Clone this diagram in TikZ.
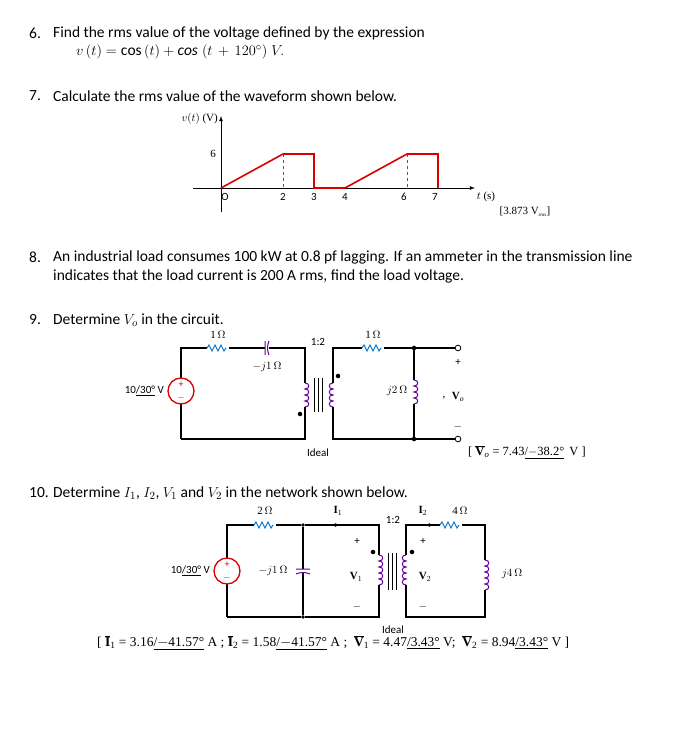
\documentclass[tikz,border=0pt]{standalone}
\usepackage{fontspec}
\setmainfont{Carlito}
\newfontfamily\tms{Liberation Serif}
\newcommand\bV{{\tms\bfseries V}}
\newcommand\bI{{\tms\bfseries I}}
\newcommand\oV{$\overline{\hbox{\tms\bfseries V}}$}
\newcommand\oI{$\overline{\hbox{\tms\bfseries I}}$}
\newcommand\ang[1]{\underline{/#1}}
\begin{document}
\begin{tikzpicture}[x=1pt,y=-1pt,
 txt/.style={anchor=west,inner sep=0pt,font=\fontsize{15.5}{17}\selectfont},
 lab/.style={inner sep=0pt,font=\tms\fontsize{11}{12}\selectfont},
 sl/.style={inner sep=0pt,font=\fontsize{11}{12}\selectfont},
 wire/.style={line width=1.1pt,black},
 dotn/.style={circle,fill=black,inner sep=1.6pt},
 term/.style={circle,draw,fill=white,inner sep=2pt,line width=0.8pt},
 res/.style={draw=cyan!60!blue,line width=1pt},
 ind/.style={draw=violet!80!blue,line width=1pt},
 sgn/.style={text=red!85!black,inner sep=0pt,font=\fontsize{10}{10}\selectfont},
 wave/.style={draw=red!85!black,line width=1.6pt}]
\useasboundingbox (0,0) rectangle (675,751);
\fill[white] (0,0) rectangle (675,751);
% ---- texts
\node[txt] (n6) at (29,33) {6.};
\node[txt] (t6) at (53,33) {Find the rms value of the voltage defined by the expression};
\node[txt] (e6) at (76,52) {$v\,(t) = \mathrm{cos}\,(t) + \mathit{cos}\;(t\, + \,120^\circ)\;V.$};
\node[txt] (n7) at (29,96) {7.};
\node[txt] (t7) at (53,96) {Calculate the rms value of the waveform shown below.};
\node[txt] (n8) at (29,257) {8.};
\node[txt] (t8) at (53,257) {An industrial load consumes 100 kW at 0.8 pf lagging. If an ammeter in the transmission line};
\node[txt] (t8b) at (53,276) {indicates that the load current is 200 A rms, find the load voltage.};
\node[txt] (n9) at (29,320) {9.};
\node[txt] (t9) at (53,320) {Determine $V_o$ in the circuit.};
\node[txt] (n10) at (29,493) {10.};
\node[txt] (t10) at (53,493) {Determine $I_1$, $I_2$, $V_1$ and $V_2$ in the network shown below.};
% ---- graph
\draw[line width=0.8pt,-latex] (193,188) -- (475,188);
\draw[line width=0.8pt,-latex] (221,212) -- (221,116);
\draw[dashed,gray!70!black] (283,154) -- (283,188) (407,154) -- (407,188);
\draw[wave] (221,188) -- (283,154) -- (314,154) -- (314,188) -- (345,188) -- (407,154) -- (438,154) -- (438,188);
\node[sl] (g0) at (225,197) {O};
\node[sl] (g2) at (283,197) {2};
\node[sl] (g3) at (314,197) {3};
\node[sl] (g4) at (345,197) {4};
\node[sl] (g6) at (404,197) {6};
\node[sl] (g7) at (435,197) {7};
\node[lab] (g6y) at (213,154) {6};
\node[lab,anchor=east] (gy) at (218,119) {$v(t)$ (V)};
\node[lab] (gt) at (486,197) {$t$ (s)};
\node[inner sep=0pt,font=\fontsize{11}{12}\selectfont\tms] (ga) at (525,212) {[3.873 V\textsubscript{\tiny rms}]};
% ---- circuit 9
\coordinate (a1) at (181,348); \coordinate (a2) at (305,348);
\coordinate (a3) at (305,439); \coordinate (a4) at (181,439);
\draw[wire] (a4) -- (181,404) (181,378) -- (a1) -- (207,348);
\draw[wire] (229,348) -- (265,348) (269,348) -- (a2) -- (305,383);
\draw[wire] (305,407) -- (a3) -- (a4);
\draw[res] (207,348) -- ++(2,-3) -- ++(3,6) -- ++(3,-6) -- ++(3,6) -- ++(3,-6) -- ++(3,6) -- ++(2,-3);
\draw[ind] (265,341) -- (265,355) (269,341) .. controls (267,345) and (267,351) .. (269,355);
\node[draw=red!85!black,line width=1.3pt,circle,minimum size=26pt,inner sep=0pt] (s9) at (181,391) {};
\node[sgn] (s9p) at (181,385) {+};
\node[sgn] (s9m) at (181,398) {$-$};
\node[sl,anchor=east] (v9) at (164,391) {10\ang{30°} V};
\node[lab] (r9) at (218,335) {1\,$\Omega$};
\node[lab] (c9) at (267,367) {$-j1\,\Omega$};
\draw[ind] (305,383) foreach \i in {0,1,2,3}{ .. controls +(5,0) and +(5,0) .. ++(0,6)};
\draw[line width=1pt] (314,378) -- (314,412) (318,378) -- (318,412) (322,378) -- (322,412);
\draw[ind] (333,383) foreach \i in {0,1,2,3}{ .. controls +(-5,0) and +(-5,0) .. ++(0,6)};
\node[dotn] (d9a) at (300,414) {}; \node[dotn] (d9b) at (338,376) {};
\node[sl] (k9) at (318,342) {1:2};
\node[sl] (i9) at (318,453) {Ideal};
\coordinate (b1) at (333,348); \node[dotn] (b2) at (414,348) {}; \node[term] (b3) at (458,348) {};
\node[dotn] (b4) at (414,439) {}; \node[term] (b5) at (458,439) {}; \coordinate (b6) at (333,439);
\draw[wire] (333,383) -- (b1) -- (362,348);
\draw[res] (362,348) -- ++(2,-3) -- ++(3,6) -- ++(3,-6) -- ++(3,6) -- ++(3,-6) -- ++(3,6) -- ++(2,-3);
\node[lab] (r9b) at (373,335) {1\,$\Omega$};
\draw[wire] (384,348) -- (b2) -- (b3);
\draw[wire] (333,407) -- (b6) -- (b4) -- (b5);
\draw[wire] (b2) -- (414,380) (414,404) -- (b4);
\draw[ind] (414,380) foreach \i in {0,1,2,3}{ .. controls +(5,0) and +(5,0) .. ++(0,6)};
\node[lab] (j9) at (397,391) {$j2\,\Omega$};
\node[sl] (p9) at (458,362) {+};
\node[sl] (m9) at (458,427) {$-$};
\node[lab] (vo) at (458,397) {\bV\textsubscript{\itshape o}};
\node[lab] (cm) at (444,398) {,};
\node[lab,anchor=west,font=\tms\fontsize{12.5}{13}\selectfont] (ans9) at (468,452) {[ \oV\textsubscript{\itshape o} = 7.43\ang{$-$38.2°}\, V ]};
% ---- circuit 10
\coordinate (c1) at (227,525); \node[dotn,inner sep=1.3pt] (c2) at (303,525) {};
\coordinate (c3) at (379,525); \coordinate (c4) at (379,617);
\node[dotn,inner sep=1.3pt] (c5) at (303,617) {}; \coordinate (c6) at (227,617);
\draw[wire] (c6) -- (227,584) (227,558) -- (c1) -- (254,525);
\draw[res] (254,525) -- ++(2,-3) -- ++(3,6) -- ++(3,-6) -- ++(3,6) -- ++(3,-6) -- ++(3,6) -- ++(2,-3);
\draw[wire] (276,525) -- (c2) -- (c3) -- (379,555);
\draw[wire] (379,585) -- (c4) -- (c5) -- (c6);
\draw[wire] (c2) -- (303,569) (303,573) -- (c5);
\draw[ind] (296,569) -- (310,569) (296,574) .. controls (300,572) and (306,572) .. (310,574);
\draw[-latex,line width=0.8pt] (333,525) -- (340,525);
\node[draw=red!85!black,line width=1.3pt,circle,minimum size=26pt,inner sep=0pt] (s10) at (227,571) {};
\node[sgn] (s10p) at (227,565) {+};
\node[sgn] (s10m) at (227,578) {$-$};
\node[sl,anchor=east] (v10) at (210,571) {10\ang{30°} V};
\node[lab] (r10) at (265,511) {2\,$\Omega$};
\node[lab] (cc10) at (273,571) {$-j1\,\Omega$};
\node[lab] (I1) at (338,511) {\bI\textsubscript{1}};
\draw[ind] (379,555) foreach \i in {0,1,2,3,4}{ .. controls +(5,0) and +(5,0) .. ++(0,6)};
\draw[line width=1pt] (388,553) -- (388,590) (392,553) -- (392,590) (396,553) -- (396,590);
\draw[ind] (406,555) foreach \i in {0,1,2,3,4}{ .. controls +(-5,0) and +(-5,0) .. ++(0,6)};
\node[dotn] (d10a) at (373,552) {}; \node[dotn] (d10b) at (412,552) {};
\node[sl] (k10) at (393,520) {1:2};
\node[sl] (i10) at (393,630) {Ideal};
\node[sl] (p10a) at (357,541) {+}; \node[lab] (V1) at (356,577) {\bV\textsubscript{1}}; \node[sl] (m10a) at (357,607) {$-$};
\node[sl] (p10b) at (423,541) {+}; \node[lab] (V2) at (425,577) {\bV\textsubscript{2}}; \node[sl] (m10b) at (423,607) {$-$};
\coordinate (e1) at (406,525); \coordinate (e2) at (485,525); \coordinate (e3) at (485,617); \coordinate (e4) at (406,617);
\draw[wire] (406,555) -- (e1) -- (440,525);
\draw[-latex,line width=0.8pt] (431,525) -- (425,525);
\draw[res] (440,525) -- ++(2,-3) -- ++(3,6) -- ++(3,-6) -- ++(3,6) -- ++(3,-6) -- ++(3,6) -- ++(2,-3);
\draw[wire] (462,525) -- (e2) -- (485,560) (485,590) -- (e3) -- (e4) -- (406,585);
\draw[ind] (485,560) foreach \i in {0,1,2,3,4}{ .. controls +(5,0) and +(5,0) .. ++(0,6)};
\node[lab] (j10) at (512,574) {$j4\,\Omega$};
\node[lab] (I2) at (423,511) {\bI\textsubscript{2}};
\node[lab] (r4) at (460,511) {4\,$\Omega$};
\node[lab,anchor=west,font=\tms\fontsize{13.5}{15}\selectfont] (ans10) at (97,643) {[\ \oI\textsubscript{1} = 3.16\ang{$-$41.57°}\ A ; \oI\textsubscript{2} = 1.58\ang{$-$41.57°}\ A ;\ \ \oV\textsubscript{1} = 4.47\ang{3.43°}\ V;\ \ \oV\textsubscript{2} = 8.94\ang{3.43°}\ V ]};
\end{tikzpicture}
\end{document}
